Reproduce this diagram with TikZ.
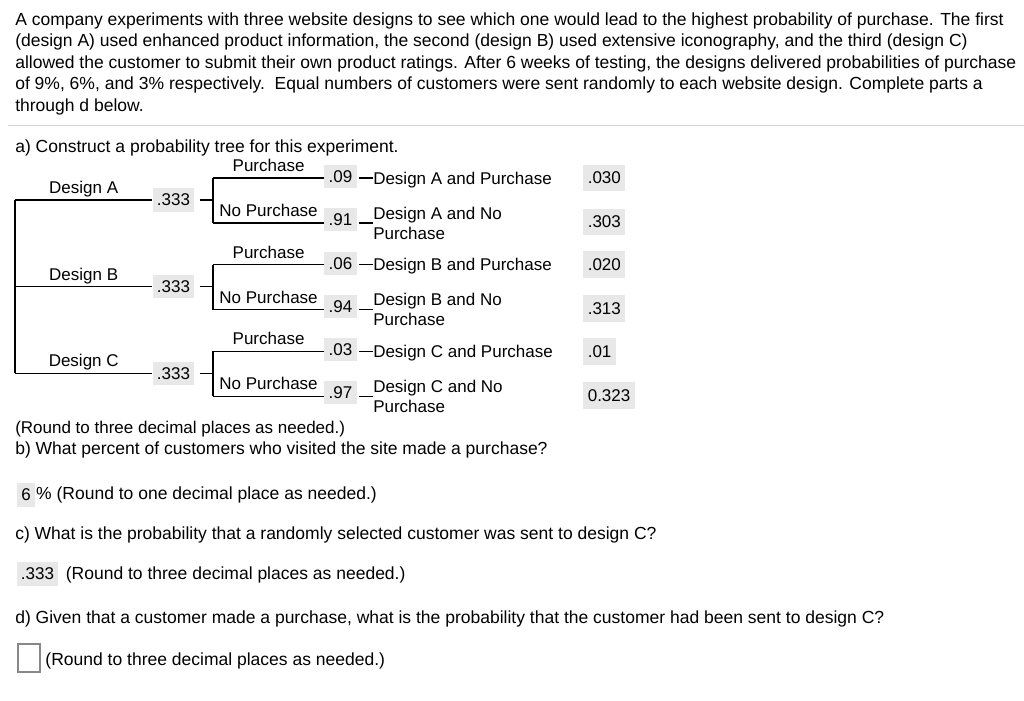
\documentclass[tikz,border=0pt]{standalone}
\usepackage{fontspec}
\setmainfont{Liberation Sans}
\usetikzlibrary{positioning}
\definecolor{ansfill}{HTML}{E8E8E8}
\definecolor{rulegray}{HTML}{D2D2D2}
\definecolor{boxgray}{HTML}{888888}

\begin{document}
\begin{tikzpicture}[
  x=0.75pt, y=-0.75pt,
  font=\fontsize{13.13}{15}\selectfont,
  treefont/.style={font=\fontsize{12.75}{15}\selectfont},
  line/.style={anchor=base west, inner sep=0pt},
  ans/.style={treefont, fill=ansfill, inner xsep=3.2pt, inner ysep=0pt, minimum height=17.5pt},
  result/.style={treefont, fill=ansfill, inner xsep=3.4pt, inner ysep=0pt, minimum height=20pt, anchor=west},
  branch/.style={line width=1.05pt},
  lbl/.style={treefont, above, inner sep=0pt, inner ysep=4.5pt, text depth=0pt},
  event/.style={treefont, anchor=west, inner sep=0pt, align=left},
  emptybox/.style={draw=boxgray, line width=1.5pt, minimum width=16.5pt, minimum height=21.5pt, inner sep=0pt}
]
\useasboundingbox[fill=white] (0,0) rectangle (1024,700);

% problem statement
\node[line] (intro1) at (15,25) {A company experiments with three website designs to see which one would lead to the highest probability of purchase. The first};
\node[line] (intro2) at (15,46.5) {(design A) used enhanced product information, the second (design B) used extensive iconography, and the third (design C)};
\node[line] (intro3) at (15,68) {allowed the customer to submit their own product ratings. After 6 weeks of testing, the designs delivered probabilities of purchase};
\node[line] (intro4) at (15,89.5) {of 9\%, 6\%, and 3\% respectively.\ \ Equal numbers of customers were sent randomly to each website design. Complete parts a};
\node[line] (intro5) at (15,111) {through d below.};
\draw[rulegray, line width=0.75pt] (8,125) -- (1024,125);

\node[line] (parta) at (15,152) {a) Construct a probability tree for this experiment.};

% tree
\coordinate (rootA) at (15,200);
\coordinate (rootB) at (15,286.7);
\coordinate (rootC) at (15,373.3);
\node[ans] (pA) at (173.5,200) {.333};
\node[ans] (pB) at (173.5,286.7) {.333};
\node[ans] (pC) at (173.5,373.3) {.333};
\coordinate (splitA) at (213,200);
\coordinate (splitB) at (213,286.7);
\coordinate (splitC) at (213,373.3);
\coordinate (buyA) at (213,178);
\coordinate (noA) at (213,223);
\coordinate (buyB) at (213,264.7);
\coordinate (noB) at (213,309.7);
\coordinate (buyC) at (213,351.3);
\coordinate (noC) at (213,396.3);

\node[ans] (pAbuy) at (340.5,176.5) {.09};
\node[ans] (pAno) at (340.5,219.5) {.91};
\node[ans] (pBbuy) at (340.5,263.2) {.06};
\node[ans] (pBno) at (340.5,306.2) {.94};
\node[ans] (pCbuy) at (340.5,349.8) {.03};
\node[ans] (pCno) at (340.5,392.8) {.97};

\node[event, text depth=0pt] (evAbuy) at (373,178) {Design A and Purchase};
\node[event] (evAno) at (373,223) {Design A and No\\Purchase};
\node[event, text depth=0pt] (evBbuy) at (373,264.7) {Design B and Purchase};
\node[event] (evBno) at (373,309.7) {Design B and No\\Purchase};
\node[event, text depth=0pt] (evCbuy) at (373,351.3) {Design C and Purchase};
\node[event] (evCno) at (373,396.3) {Design C and No\\Purchase};

\node[result] (jAbuy) at (583,178) {.030};
\node[result] (jAno) at (583,222) {.303};
\node[result] (jBbuy) at (583,264.7) {.020};
\node[result] (jBno) at (583,308.7) {.313};
\node[result] (jCbuy) at (583,351.3) {.01};
\node[result] (jCno) at (583,395.3) {0.323};

\draw[branch] (rootA) -- (rootC);
\draw[branch] (rootA) -- node[lbl] {Design A} (pA);
\draw[branch] (rootB) -- node[lbl] {Design B} (pB);
\draw[branch] (rootC) -- node[lbl] {Design C} (pC);
\draw[branch, shorten <=3.75pt] (pA) -- (splitA);
\draw[branch, shorten <=3.75pt] (pB) -- (splitB);
\draw[branch, shorten <=3.75pt] (pC) -- (splitC);
\draw[branch] (buyA) -- (noA);
\draw[branch] (buyB) -- (noB);
\draw[branch] (buyC) -- (noC);
\draw[branch] (buyA) -- node[lbl] {Purchase} (pAbuy.west |- buyA);
\draw[branch] (noA) -- node[lbl] {No Purchase} (pAno.west |- noA);
\draw[branch] (buyB) -- node[lbl] {Purchase} (pBbuy.west |- buyB);
\draw[branch] (noB) -- node[lbl] {No Purchase} (pBno.west |- noB);
\draw[branch] (buyC) -- node[lbl] {Purchase} (pCbuy.west |- buyC);
\draw[branch] (noC) -- node[lbl] {No Purchase} (pCno.west |- noC);
\draw[line width=0.8pt, shorten <=1.5pt] (pAbuy.east |- evAbuy.west) -- (evAbuy.west);
\draw[line width=0.8pt, shorten <=1.5pt] (pAno.east |- evAno.west) -- (evAno.west);
\draw[line width=0.8pt, shorten <=1.5pt] (pBbuy.east |- evBbuy.west) -- (evBbuy.west);
\draw[line width=0.8pt, shorten <=1.5pt] (pBno.east |- evBno.west) -- (evBno.west);
\draw[line width=0.8pt, shorten <=1.5pt] (pCbuy.east |- evCbuy.west) -- (evCbuy.west);
\draw[line width=0.8pt, shorten <=1.5pt] (pCno.east |- evCno.west) -- (evCno.west);

% parts b to d
\node[line, treefont] (rounda) at (15,433) {(Round to three decimal places as needed.)};
\node[line] (partb) at (15,454) {b) What percent of customers who visited the site made a purchase?};
\node[ans] (ansb) at (26,495) {6};
\node[right=0.5pt of ansb, inner sep=0pt] (hintb) {\% (Round to one decimal place as needed.)};
\node[line] (partc) at (15,539) {c) What is the probability that a randomly selected customer was sent to design C?};
\node[ans] (ansc) at (37.5,574) {.333};
\node[right=5.25pt of ansc, inner sep=0pt, yshift=-1pt] (hintc) {(Round to three decimal places as needed.)};
\node[line] (partd) at (15,623) {d) Given that a customer made a purchase, what is the probability that the customer had been sent to design C?};
\node[emptybox] (ansd) at (28.5,658) {};
\node[right=3.5pt of ansd, inner sep=0pt, yshift=-2.5pt] (hintd) {(Round to three decimal places as needed.)};
\end{tikzpicture}
\end{document}
